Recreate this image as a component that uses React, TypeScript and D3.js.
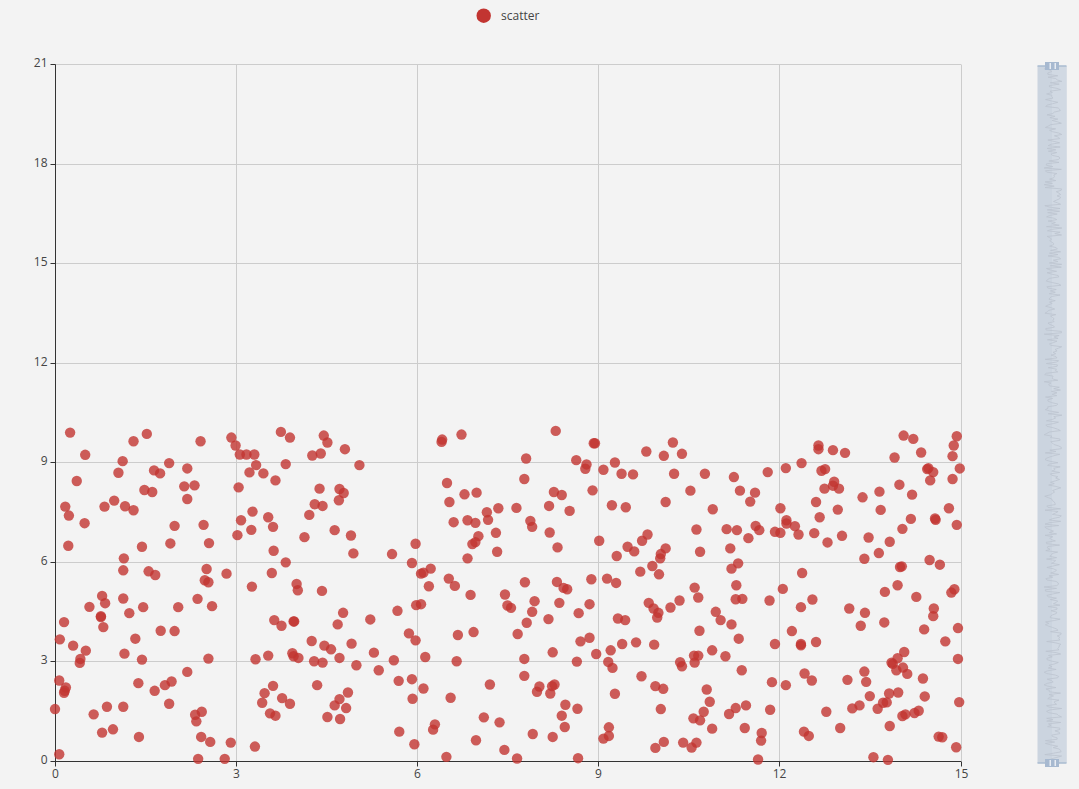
import * as d3 from 'd3';
import React, { useEffect, useRef } from 'react';

const xTicks = [0, 3, 6, 9, 12, 15];
const yTicks = [0, 3, 6, 9, 12, 15, 18, 21];
const seriesName = 'scatter';

// left part
const pointsA: [number, number][] = [
    [.25, 9.91], [.50, 9.24], [.36, 8.45], [.17, 7.68], [.23, 7.41], [.49, 7.18], [.22, 6.50], [.82, 7.68], [.98, 7.86], [1.16, 7.69],
    [1.30, 7.57], [1.05, 8.70], [1.12, 9.05], [1.30, 9.65], [1.52, 9.87], [1.64, 8.77], [1.74, 8.68], [1.48, 8.18], [1.61, 8.12], [1.89, 8.99],
    [2.19, 8.83], [2.14, 8.29], [2.31, 8.32], [2.19, 7.91], [2.41, 9.65], [1.98, 7.10], [2.46, 7.13], [1.91, 6.57], [2.55, 6.58], [1.44, 6.47],
    [1.14, 6.12], [1.13, 5.76], [1.55, 5.73], [1.66, 5.62], [2.51, 5.80], [2.48, 5.46], [2.54, 5.40], [2.84, 5.66], [.78, 4.99], [.83, 4.77],
    [.57, 4.66], [1.13, 4.91], [1.23, 4.47], [1.46, 4.65], [2.04, 4.65], [2.36, 4.90], [2.60, 4.68], [.15, 4.20], [.76, 4.38], [.76, 4.35],
    [.80, 4.05], [.08, 3.68], [.30, 3.49], [.51, 3.34], [.42, 3.09], [.41, 2.97], [1.15, 3.25], [1.33, 3.70], [1.44, 3.07], [1.75, 3.94],
    [1.98, 3.93], [2.54, 3.10], [2.19, 2.70], [.07, 2.44], [.18, 2.23], [.16, 2.13], [.15, 2.07], [0, 1.58], [.64, 1.42], [.86, 1.65],
    [1.13, 1.65], [1.38, 2.36], [1.65, 2.13], [1.82, 2.30], [1.93, 2.41], [1.89, 1.74], [.78, .87], [.96, .97], [1.39, .74], [2.32, 1.41],
    [2.43, 1.50], [2.34, 1.21], [2.42, .74], [2.57, .59], [2.37, .08], [.07, .22], [2.81, .08], [2.91, .57], [3.31, .45], [2.92, 9.76],
    [2.99, 9.52], [3.06, 9.25], [3.17, 9.25], [3.30, 9.25], [3.33, 8.93], [3.22, 8.71], [3.45, 8.68], [3.65, 8.47], [3.04, 8.26], [3.74, 9.93],
    [3.89, 9.76], [3.82, 8.96], [4.26, 9.22], [4.40, 9.28], [4.45, 9.82], [4.51, 9.61], [4.38, 8.22], [4.30, 7.75], [4.43, 7.70], [4.21, 7.43],
    [4.71, 8.21], [4.70, 7.87], [3.08, 7.27], [3.27, 7.53], [3.25, 6.98], [3.02, 6.82], [3.53, 7.36], [3.61, 7.07], [3.62, 6.35], [4.13, 6.76],
    [4.63, 6.97], [3.82, 6.00], [3.59, 5.68], [3.26, 5.27], [4.00, 5.35], [4.02, 5.16], [4.42, 5.14], [3.63, 4.26], [3.75, 4.09], [3.95, 4.22],
    [3.96, 4.22], [4.25, 3.63], [4.46, 3.49], [4.57, 3.38], [3.53, 3.19], [3.93, 3.26], [3.95, 3.17], [4.03, 3.12], [3.32, 3.08], [4.29, 3.02],
    [4.43, 2.98], [4.71, 3.12], [4.34, 2.30], [3.61, 2.28], [3.47, 2.06], [3.76, 1.91], [3.43, 1.77], [3.89, 1.74], [3.56, 1.45], [3.65, 1.38],
    [4.51, 1.34], [4.63, 1.69], [4.71, 1.88], [4.72, 1.28], [4.77, 4.48], [4.68, 4.13],
];

// middle part
const pointsB: [number, number][] = [
    [4.80, 9.41], [5.04, 8.93], [4.78, 8.09], [4.90, 6.81], [4.94, 6.27], [5.58, 6.25], [5.97, 6.56], [5.91, 5.98], [6.22, 5.81], [6.06, 5.66],
    [6.10, 5.69], [6.19, 5.28], [5.22, 4.28], [5.67, 4.54], [5.98, 4.71], [6.06, 4.74], [5.86, 3.86], [5.97, 3.65], [6.67, 3.81], [6.93, 3.90],
    [4.91, 3.55], [5.28, 3.28], [4.99, 2.90], [5.61, 3.05], [5.36, 2.75], [6.13, 3.15], [6.65, 3.02], [5.69, 2.43], [5.91, 2.48], [6.10, 2.20],
    [5.92, 1.89], [6.55, 1.92], [7.20, 2.32], [4.85, 2.08], [4.82, 1.61], [5.70, .90], [5.95, .52], [6.29, 1.12], [6.26, .96], [6.48, .14],
    [6.97, .64], [7.10, 1.33], [7.36, 1.18], [7.44, .35], [7.65, .09], [7.91, .83], [8.24, .74], [8.44, 1.04], [8.39, 1.38], [8.45, 1.71],
    [8.65, 1.59], [8.66, .10], [9.17, 1.03], [9.17, .77], [9.08, .69], [9.94, .41], [9.27, 2.04], [9.71, 2.57], [9.94, 2.27], [7.77, 2.58],
    [7.98, 2.10], [8.02, 2.26], [8.20, 2.05], [8.23, 2.27], [8.27, 2.32], [7.77, 3.09], [8.24, 3.29], [8.64, 3.01], [8.96, 3.24], [9.16, 3.00],
    [9.23, 2.82], [9.20, 3.35], [9.39, 3.54], [9.62, 3.59], [9.92, 3.52], [8.70, 3.62], [8.85, 3.73], [7.66, 3.84], [7.81, 4.18], [7.90, 4.51],
    [8.17, 4.29], [8.67, 4.47], [8.85, 4.74], [9.32, 4.31], [9.44, 4.26], [8.35, 4.78], [7.94, 4.83], [7.49, 4.70], [7.55, 4.63], [7.45, 5.03],
    [6.88, 5.02], [6.52, 5.51], [6.62, 5.29], [7.78, 5.40], [8.31, 5.41], [8.42, 5.23], [8.48, 5.19], [8.88, 5.49], [9.14, 5.51], [9.29, 5.38],
    [9.69, 5.72], [9.89, 5.89], [9.83, 4.78], [9.91, 4.61], [9.99, 4.48], [9.97, 4.34], [6.83, 6.12], [7.32, 6.32], [6.91, 6.55], [6.96, 6.61],
    [7.01, 6.79], [7.30, 6.89], [6.60, 7.21], [6.83, 7.27], [6.96, 7.19], [7.17, 7.28], [7.15, 7.51], [7.34, 7.63], [7.64, 7.64], [6.53, 7.82],
    [6.78, 8.05], [6.98, 8.10], [6.49, 8.39], [6.41, 9.70], [6.40, 9.63], [6.73, 9.85], [8.29, 9.96], [7.80, 9.13], [7.77, 8.51], [8.92, 9.59],
    [8.94, 9.59], [8.63, 9.08], [8.80, 8.95], [8.78, 8.82], [9.08, 8.79], [9.27, 9.01], [9.38, 8.67], [9.57, 8.65], [9.79, 9.34], [8.26, 8.12],
    [8.39, 8.03], [8.90, 8.17], [8.18, 7.70], [8.52, 7.55], [9.22, 7.72], [9.45, 7.66], [7.87, 7.25], [7.90, 7.07], [8.19, 6.90], [8.32, 6.45],
    [9.01, 6.65], [9.48, 6.47], [9.30, 6.19], [9.59, 6.33], [9.72, 6.65], [9.81, 6.84],
];

// right part
const pointsC: [number, number][] = [
    [10.23, 9.61], [10.08, 9.21], [10.38, 9.27], [10.25, 8.67], [10.76, 8.67], [10.52, 8.16], [10.11, 7.82], [10.89, 7.60], [11.24, 8.57], [11.34, 8.16],
    [11.59, 8.10], [11.51, 7.83], [11.80, 8.72], [12.10, 8.84], [12.36, 8.99], [12.64, 9.52], [12.64, 9.41], [12.88, 9.38], [13.08, 9.30], [12.69, 8.76],
    [12.75, 8.81], [12.90, 8.43], [12.88, 8.31], [12.74, 8.22], [12.98, 8.22], [12.60, 7.82], [12.01, 7.63], [12.96, 7.59], [12.66, 7.36], [13.37, 7.96],
    [13.65, 8.13], [13.67, 7.58], [13.98, 8.34], [14.19, 8.04], [13.90, 9.16], [14.05, 9.82], [14.21, 9.72], [14.34, 9.31], [14.44, 8.81], [14.46, 8.84],
    [14.54, 8.72], [14.49, 8.47], [14.86, 8.51], [14.86, 9.20], [14.88, 9.52], [14.93, 9.80], [14.98, 8.83], [14.80, 7.63], [14.57, 7.32], [14.58, 7.28],
    [14.17, 7.31], [14.03, 7.01], [14.93, 7.13], [13.82, 6.62], [13.47, 6.75], [13.03, 6.80], [12.79, 6.60], [12.57, 6.88], [12.31, 6.84], [12.25, 7.09],
    [12.11, 7.27], [12.11, 7.17], [11.92, 6.92], [12.01, 6.89], [11.60, 7.10], [11.66, 6.97], [11.48, 6.73], [11.29, 6.97], [11.12, 7.00], [10.62, 6.99],
    [10.68, 6.32], [11.18, 6.42], [10.11, 6.42], [10.03, 6.25], [10.02, 6.12], [10.00, 5.64], [11.31, 5.97], [11.20, 5.81], [12.37, 5.68], [13.40, 6.11],
    [13.64, 6.28], [14.48, 6.07], [14.65, 5.93], [13.99, 5.86], [14.02, 5.88], [10.59, 5.24], [10.65, 4.94], [11.28, 5.31], [11.27, 4.89], [11.38, 4.90],
    [11.83, 4.85], [12.05, 5.20], [12.54, 4.88], [12.35, 4.65], [13.15, 4.61], [13.41, 4.48], [13.34, 4.09], [13.73, 4.19], [13.74, 5.11], [13.95, 5.31],
    [14.26, 4.96], [14.55, 4.61], [14.54, 4.38], [14.84, 5.09], [14.89, 5.19], [14.39, 3.98], [14.95, 4.02], [14.74, 3.62], [10.34, 4.85], [10.19, 4.64],
    [10.94, 4.51], [11.02, 4.26], [11.20, 4.13], [10.67, 3.94], [11.32, 3.70], [12.20, 3.93], [11.92, 3.54], [12.35, 3.54], [12.35, 3.50], [12.60, 3.60],
    [10.88, 3.35], [11.10, 3.17], [10.58, 3.19], [10.65, 3.19], [10.59, 2.98], [10.35, 2.99], [10.38, 2.87], [11.37, 2.75], [14.06, 3.30], [13.95, 3.11],
    [13.85, 2.98], [13.87, 2.94], [14.95, 3.09], [14.04, 2.83], [13.93, 2.75], [14.11, 2.64], [14.37, 2.50], [13.40, 2.71], [13.43, 2.40], [13.12, 2.46],
    [12.41, 2.65], [12.53, 2.44], [11.87, 2.39], [12.10, 2.30], [10.07, 2.19], [10.79, 2.17], [10.84, 1.80], [10.03, 1.58], [10.74, 1.50], [11.44, 1.69],
    [11.27, 1.61], [11.16, 1.43], [10.57, 1.30], [10.68, 1.24], [10.88, .99], [11.42, 1.01], [11.84, 1.56], [11.70, .86], [11.69, .63], [11.64, .06],
    [12.40, .90], [12.48, .77], [12.77, 1.50], [13.00, 1.01], [13.20, 1.60], [13.32, 1.69], [13.49, 1.97], [13.62, 1.59], [13.71, 1.77], [13.77, 1.78],
    [13.81, 2.05], [13.96, 2.08], [14.40, 1.96], [14.97, 1.79], [14.03, 1.37], [14.08, 1.42], [14.23, 1.46], [14.30, 1.53], [13.82, 1.07], [14.63, .75],
    [14.69, .73], [14.92, .43], [13.55, .13], [13.79, .05], [10.08, .59], [10.40, .57], [10.62, .57], [10.54, .42],
];

const points = [...pointsA, ...pointsB, ...pointsC];

const App: React.FC = () => {
    const svgRef = useRef<SVGSVGElement | null>(null);

    useEffect(() => {
        const width = 1079;
        const height = 789;
        const font = '"Open Sans", sans-serif';

        const svg = d3.select(svgRef.current);
        svg.selectAll('*').remove();
        svg.attr('width', width).attr('height', height);

        svg.append('rect').attr('width', width).attr('height', height).attr('fill', '#f3f3f3');

        const x = d3.scaleLinear().domain([0, 15]).range([55, 961]);
        const y = d3.scaleLinear().domain([0, 21]).range([761.5, 64.5]);
        // Snap lines to whole pixels so they stay sharp
        const crisp = (v: number) => Math.floor(v) + 0.5;

        // Grid lines
        svg.append('g').selectAll('line').data(xTicks.slice(1)).enter().append('line')
            .attr('x1', d => crisp(x(d))).attr('x2', d => crisp(x(d)))
            .attr('y1', y(0)).attr('y2', y(21))
            .attr('stroke', '#ccc');
        svg.append('g').selectAll('line').data(yTicks.slice(1)).enter().append('line')
            .attr('x1', x(0)).attr('x2', x(15))
            .attr('y1', d => crisp(y(d))).attr('y2', d => crisp(y(d)))
            .attr('stroke', '#ccc');

        // Axes
        const xAxis = svg.append('g')
            .attr('transform', `translate(0,${y(0)})`)
            .call(d3.axisBottom(x).tickValues(xTicks).tickSize(5).tickPadding(3).tickSizeOuter(0).offset(0));
        const yAxis = svg.append('g')
            .attr('transform', `translate(${crisp(x(0))},0)`)
            .call(d3.axisLeft(y).tickValues(yTicks).tickSize(5).tickPadding(3).tickSizeOuter(0).offset(0));
        xAxis.selectAll<SVGGElement, number>('.tick').attr('transform', d => `translate(${crisp(x(d))},0)`);
        yAxis.selectAll<SVGGElement, number>('.tick').attr('transform', d => `translate(0,${crisp(y(d))})`);
        yAxis.selectAll('text').attr('y', -1);
        [xAxis, yAxis].forEach(a => {
            a.selectAll('path').attr('stroke', '#333');
            a.selectAll('line').attr('stroke', '#333');
            a.selectAll('text').attr('fill', '#444').style('font-size', '12px').style('font-family', font);
        });

        // Points
        svg.append('g').selectAll('circle')
            .data(points)
            .enter()
            .append('circle')
            .attr('cx', d => x(d[0]))
            .attr('cy', d => y(d[1]))
            .attr('r', 5.2)
            .attr('fill', '#c23531')
            .attr('opacity', 0.8);

        // Legend
        svg.append('circle').attr('cx', 483.7).attr('cy', 15.7).attr('r', 7.2).attr('fill', '#c23531');
        svg.append('text').attr('x', 501).attr('y', 19.5).attr('fill', '#444')
            .style('font-size', '12px').style('font-family', font).text(seriesName);

        // Vertical dataZoom slider, the shadow comes from the y values taken along x
        const zoomTop = 66;
        const zoomBottom = 763;
        const zoomLeft = 1037.5;
        const zoomRight = 1066.5;
        svg.append('rect')
            .attr('x', zoomLeft).attr('y', zoomTop)
            .attr('width', zoomRight - zoomLeft).attr('height', zoomBottom - zoomTop)
            .attr('fill', '#cbd4df');

        const byX = [...points].sort((a, b) => d3.ascending(a[0], b[0]));
        const shadowX = d3.scaleLinear().domain([0, 10]).range([1044, 1062]);
        const shadowY = d3.scaleLinear().domain([0, byX.length - 1]).range([zoomTop, zoomBottom]);
        const shadowLine = d3.line<[number, number]>()
            .x(d => shadowX(d[1]))
            .y((_, i) => shadowY(i));
        svg.append('rect')
            .attr('x', 1052).attr('y', zoomTop)
            .attr('width', zoomRight - 1052).attr('height', zoomBottom - zoomTop)
            .attr('fill', '#d1d9e3');
        svg.append('path').attr('d', shadowLine(byX)).attr('fill', 'none').attr('stroke', '#bcc4cf').attr('stroke-width', 0.8);

        [zoomTop, zoomBottom].forEach(py => {
            svg.append('line').attr('x1', zoomLeft).attr('x2', zoomRight).attr('y1', py).attr('y2', py)
                .attr('stroke', '#a9bbd0').attr('stroke-width', 1.5);
            svg.append('rect').attr('x', 1045).attr('y', py - 4).attr('width', 14).attr('height', 8).attr('fill', '#a7b9d0');
            [1049.5, 1054.5].forEach(px => {
                svg.append('rect').attr('x', px).attr('y', py - 3).attr('width', 1.5).attr('height', 6).attr('fill', '#e8ecf2');
            });
        });
    }, []);

    return <svg ref={svgRef} style={{ position: 'absolute', left: 0, top: 0 }}></svg>;
};

export default App;
